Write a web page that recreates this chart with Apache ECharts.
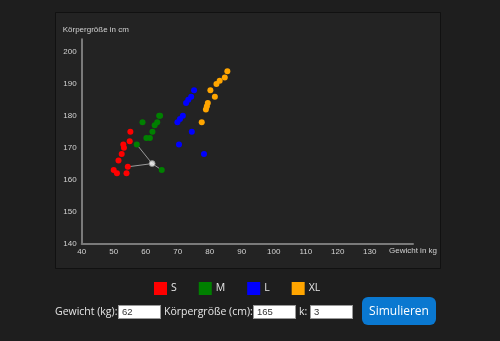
<!DOCTYPE html>
<html>
<head>
<meta charset="utf-8">
<script src="https://cdn.jsdelivr.net/npm/echarts@6/dist/echarts.min.js"></script>
<style>
  html, body { margin: 0; padding: 0; background: #1e1e1e; width: 500px; height: 341px; overflow: hidden; }
  #chart { position: absolute; left: 0; top: 0; width: 500px; height: 341px; }
  .lbl { position: absolute; font-family: "Open Sans", sans-serif; font-size: 10.5px; color: #e6e6e6; line-height: 14px; white-space: nowrap; }
  .inp { position: absolute; box-sizing: border-box; height: 14px; background: #fff; border: 1px solid #999; font-family: "Liberation Sans", Arial, sans-serif; font-size: 9.5px; color: #333; line-height: 12px; padding: 0 0 0 3px; }
  #btn { position: absolute; left: 362px; top: 297px; width: 74px; height: 28px; background: #0a78d0; border-radius: 6px; color: #fff; font-family: "Open Sans", sans-serif; font-size: 12px; line-height: 28px; text-align: center; }
</style>
</head>
<body>
<div id="chart"></div>
<div class="lbl" style="left:55px; top:304px;">Gewicht (kg):</div>
<div class="inp" style="left:118px; top:305px; width:43px;">62</div>
<div class="lbl" style="left:164px; top:304px;">Körpergröße (cm):</div>
<div class="inp" style="left:253px; top:305px; width:43px;">165</div>
<div class="lbl" style="left:299px; top:304px;">k:</div>
<div class="inp" style="left:310px; top:305px; width:43px;">3</div>
<div id="btn">Simulieren</div>
<script>
const classNames = ['S', 'M', 'L', 'XL'];
const classColors = ['#ff0000', '#008000', '#0000ff', '#ffa500'];
const sizeS = [[50, 163], [51, 162], [51.5, 166], [52.5, 168], [53, 171], [53.2, 170], [54, 162], [54.4, 164], [55, 172], [55.2, 175]];
const sizeM = [[57.2, 171], [59, 178], [60.2, 173], [61.3, 173], [62.1, 175], [62.8, 177], [63.6, 178], [64.2, 180], [64.5, 180], [65, 163]];
const sizeL = [[69.9, 178], [70.7, 179], [71.6, 180], [72.6, 184], [73.3, 185], [74.2, 186], [75.1, 188], [74.4, 175], [70.4, 171], [78.2, 168]];
const sizeXL = [[85.5, 194], [84.7, 192], [83.1, 191], [82.1, 190], [80.2, 188], [81.6, 186], [79.4, 184], [79.1, 183], [78.8, 182], [77.5, 178]];
const queryPoint = [62, 165];
const neighbours = [[54.4, 164], [57.2, 171], [65, 163]];
const xTicks = { min: 40, max: 143.5, step: 10, lastLabel: 130 };
const yTicks = { min: 140, max: 204, step: 10, lastLabel: 200 };
const xTitle = 'Gewicht in kg';
const yTitle = 'Körpergröße in cm';

const chart = echarts.init(document.getElementById('chart'), null, { renderer: 'canvas' });
const classData = [sizeS, sizeM, sizeL, sizeXL];

const series = classNames.map((n, i) => ({
  name: n, type: 'scatter', data: classData[i], symbolSize: 6,
  itemStyle: { color: classColors[i], opacity: 1 }, z: 3
}));
neighbours.forEach(nb => {
  series.push({
    type: 'line', data: [queryPoint, nb], symbol: 'none', silent: true,
    lineStyle: { color: '#9a9a9a', width: 1 }, z: 2
  });
});
series.push({
  type: 'scatter', data: [queryPoint], symbolSize: 6,
  itemStyle: { color: '#ffffff', borderColor: '#888', borderWidth: 1 }, z: 4
});

const axisFont = { color: '#d2d2d2', fontSize: 8, fontFamily: 'Liberation Sans, Arial, sans-serif' };

chart.setOption({
  backgroundColor: 'transparent',
  animation: false,
  grid: { left: 81.7, right: 87, top: 39.3, bottom: 97.7 },
  legend: {
    data: classNames, left: 149, top: 277, itemWidth: 13, itemHeight: 13, itemGap: 22,
    icon: 'rect', selectedMode: false,
    textStyle: { color: '#e6e6e6', fontSize: 10.5, fontFamily: 'Open Sans, sans-serif', padding: [0, 0, 0, -1] }
  },
  graphic: [
    { type: 'rect', z: -10, shape: { x: 55.5, y: 12.5, width: 385, height: 256 },
      style: { fill: '#232323', stroke: '#111111', lineWidth: 1 } },
    { type: 'text', left: 62.7, top: 26, style: { text: yTitle, fill: '#d2d2d2', font: '8px Liberation Sans, Arial, sans-serif' } },
    { type: 'text', left: 389, top: 246.5, style: { text: xTitle, fill: '#d2d2d2', font: '8px Liberation Sans, Arial, sans-serif' } }
  ],
  xAxis: {
    type: 'value', min: xTicks.min, max: xTicks.max, interval: xTicks.step,
    splitLine: { show: false }, axisTick: { show: false },
    axisLine: { show: true, onZero: false, lineStyle: { color: '#7a7a7a', width: 2 } },
    axisLabel: Object.assign({ margin: 4, showMaxLabel: false,
      formatter: v => (v <= xTicks.lastLabel ? String(v) : '') }, axisFont)
  },
  yAxis: {
    type: 'value', min: yTicks.min, max: yTicks.max, interval: yTicks.step,
    splitLine: { show: false }, axisTick: { show: false },
    axisLine: { show: true, onZero: false, lineStyle: { color: '#7a7a7a', width: 2 } },
    axisLabel: Object.assign({ margin: 5, showMaxLabel: false,
      formatter: v => (v <= yTicks.lastLabel ? String(v) : '') }, axisFont)
  },
  series: series
});
</script>
</body>
</html>
